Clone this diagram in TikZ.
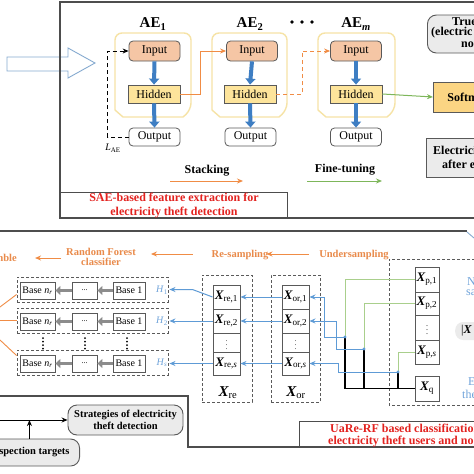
\documentclass[tikz,border=0pt]{standalone}
\usepackage{fontspec}
\setmainfont{Liberation Serif}
\usetikzlibrary{arrows.meta,calc}
\newcommand{\fs}[2]{\fontsize{#1}{#2}\selectfont}
\definecolor{panelgray}{HTML}{4D4D4D}
\definecolor{boxborder}{HTML}{595959}
\definecolor{aeyellow}{HTML}{F6E3A6}
\definecolor{inputfill}{HTML}{F5C6A5}
\definecolor{hiddenfill}{HTML}{FDE49B}
\definecolor{softfill}{HTML}{FBD583}
\definecolor{blueA}{HTML}{3E7EC3}
\definecolor{orangeL}{HTML}{F08C45}
\definecolor{greenL}{HTML}{7DB65A}
\definecolor{redT}{HTML}{E3221F}
\definecolor{orangeT}{HTML}{E98A4A}
\definecolor{lblue}{HTML}{6FA3DA}
\definecolor{bluethin}{HTML}{5E9BD6}
\definecolor{greenthin}{HTML}{A9CF8C}
\definecolor{grayA}{HTML}{8C8C8C}
\definecolor{grayfill}{HTML}{EBEBEB}
\definecolor{dashgray}{HTML}{5A5A5A}
\definecolor{hollow}{HTML}{86AAD0}
\begin{document}
\begin{tikzpicture}[x=1pt,y=-1pt,
  panel/.style={draw=panelgray, line width=1.6pt},
  capbox/.style={draw=panelgray, line width=1pt},
  aeframe/.style={draw=aeyellow, line width=1.4pt},
  inbox/.style={draw=boxborder, fill=inputfill, rounded corners=4pt, line width=0.8pt, minimum width=51pt, minimum height=20pt, inner sep=0pt, font=\fs{12}{14}},
  hidbox/.style={draw=boxborder, fill=hiddenfill, line width=0.8pt, minimum width=52pt, minimum height=18pt, inner sep=0pt, font=\fs{12}{14}},
  outbox/.style={draw=boxborder, fill=white, rounded corners=4pt, line width=0.8pt, minimum width=51pt, minimum height=18pt, inner sep=0pt, font=\fs{12}{14}},
  thickblue/.style={draw=blueA, line width=4pt, -{Triangle[length=6pt,width=10pt]}},
  aelabel/.style={font=\fs{15}{17}\bfseries, inner sep=0pt},
  boldtxt/.style={font=\fs{12}{14}\bfseries, inner sep=0pt},
  redcap/.style={font=\fs{12}{14}\bfseries, text=redT, inner sep=0pt},
  orln/.style={draw=orangeL, line width=0.9pt},
  orarr/.style={draw=orangeL, line width=1pt, -{Stealth[length=6pt,width=5pt]}},
  grarr/.style={draw=greenL, line width=1pt, -{Stealth[length=6pt,width=5pt]}},
  ortxt/.style={font=\fs{10.5}{10.5}\bfseries, text=orangeT, inner sep=0pt, align=center},
  rowbox/.style={draw=dashgray, dash pattern=on 3pt off 2pt, line width=0.9pt, minimum width=151pt, minimum height=25pt, inner sep=0pt},
  basebox/.style={draw=boxborder, line width=0.9pt, fill=white, minimum height=17pt, inner sep=0pt, font=\fs{10}{12}},
  grayarr/.style={draw=grayA, line width=3.5pt, -{Triangle[length=5pt,width=9pt]}},
  hlab/.style={font=\fs{10}{12}, text=lblue, inner sep=0pt},
  cell/.style={draw=boxborder, line width=0.9pt, fill=white, inner sep=0pt, font=\fs{13}{15}},
  colbox/.style={draw=dashgray, dash pattern=on 3pt off 2pt, line width=0.9pt},
  bluearr/.style={draw=bluethin, line width=1pt, -{Stealth[length=6pt,width=5pt]}},
  greenln/.style={draw=greenthin, line width=1pt},
  blkln/.style={draw=black, line width=1.5pt},
  bluetxt/.style={font=\fs{12}{14}, text=lblue, inner sep=0pt},
  graybox/.style={draw=boxborder, fill=grayfill, line width=0.9pt},
  strtxt/.style={font=\fs{10.5}{12.5}\bfseries, align=center}
]
\useasboundingbox (0,0) rectangle (474,474);
\clip (0,0) rectangle (474,474);
\fill[white] (0,0) rectangle (474,474);

% ---------------- hollow input arrow
\draw[draw=hollow, fill=white, line width=0.9pt] (7,57) -- (68,57) -- (68,48) -- (95,63) -- (68,78) -- (68,71) -- (7,71) -- cycle;

% ---------------- top panel
\draw[panel] (480,2) -- (60,2) -- (60,218) -- (480,218);
\node[capbox, minimum width=227pt, minimum height=26pt, anchor=north west, inner sep=0pt] (cap1) at (60,192) {};
\node[redcap, align=center] (cap1txt) at (cap1.center) {SAE-based feature extraction for\\electricity theft detection};

% AE containers
\foreach \L/\R in {115/191, 212/287, 318/395}{
  \draw[aeframe] (\L+8,117) -- (\L,110) [rounded corners=7pt] -- (\L,33) -- (\R,33) -- (\R,110) [sharp corners] -- (\R-8,117) -- cycle;
}
\node[aelabel] (ae1) at (153,24) {AE\textsubscript{1}};
\node[aelabel] (ae2) at (250,24) {AE\textsubscript{2}};
\node[aelabel] (aem) at (356,24) {AE\textsubscript{\textit{m}}};
\foreach \x in {292,302,312} \fill (\x,22) circle (1.8pt);

\node[inbox] (i1) at (154.5,51) {Input};
\node[hidbox] (h1) at (154,94) {Hidden};
\node[outbox] (o1) at (154.5,137) {Output};
\node[inbox] (i2) at (252,51) {Input};
\node[hidbox] (h2) at (250,94) {Hidden};
\node[outbox] (o2) at (250.5,137) {Output};
\node[inbox] (im) at (356,51) {Input};
\node[hidbox] (hm) at (356,94) {Hidden};
\node[outbox] (om) at (356,137) {Output};

\foreach \a/\b in {i1/h1,h1/o1,i2/h2,h2/o2,im/hm,hm/om}
  \draw[thickblue] (\a.south) -- (\b.north);

\draw[line width=0.9pt, dash pattern=on 4pt off 3pt, -{Stealth[length=6pt,width=5pt]}] (o1.west) -- ++(-21,0) |- (i1.west);
\node[font=\fs{10}{12}, inner sep=0pt] (lae) at (113,148) {\textit{L}\textsubscript{AE}};

\draw[orarr] (h1.east) -- ++(20,0) |- (i2.west);
\draw[orarr, dash pattern=on 4pt off 3pt] (h2.east) -- ++(26,0) |- (im.west);

% right-hand boxes
\node[draw=boxborder, fill=grayfill, rounded corners=9pt, line width=0.9pt, minimum width=80pt, minimum height=38pt, anchor=west] (truebox) at (427,34) {};
\node[boldtxt, anchor=west] (tru1) at (452,21.5) {True};
\node[boldtxt, anchor=west] (tru2) at (431,33) {(electric};
\node[boldtxt, anchor=west] (tru3) at (461,44.5) {no};
\node[draw=boxborder, fill=softfill, line width=0.9pt, minimum height=30pt, inner xsep=14pt, anchor=west, font=\fs{12}{14}\bfseries] (sm) at (433,97) {Softmax};
\draw[grarr] (hm.east) -- (sm.west);
\node[graybox, minimum width=80pt, minimum height=39pt, anchor=west] (elecbox) at (426,157.5) {};
\node[boldtxt, anchor=west] (el1) at (433,150) {Electrici};
\node[boldtxt, anchor=west] (el2) at (442,164) {after e};

% stacking / fine-tuning
\node[boldtxt] (stack) at (207,171) {Stacking};
\coordinate (sa) at (170,181); \coordinate (sb) at (243,181);
\draw[orarr] (sa) -- (sb);
\node[boldtxt] (fine) at (345,170) {Fine-tuning};
\coordinate (fa) at (307,181); \coordinate (fb) at (382,181);
\draw[grarr] (fa) -- (fb);

% ---------------- bottom panel
\draw[panel] (0,231) -- (467,231);
\draw[draw=hollow, line width=0.9pt] (467,232) -- (474,238);
\draw[panel] (-5,396) -- (188,396) -- (188,447) -- (480,447);
\node[capbox, minimum width=190pt, minimum height=26pt, anchor=north west, inner sep=0pt] (cap2) at (299,421) {};
\node[redcap, anchor=west] (cap2a) at (330,428) {UaRe-RF based classification};
\node[redcap, anchor=west] (cap2b) at (328,442) {electricity theft users and no};

% orange headings
\node[font=\fs{10.5}{12}\bfseries, text=orangeT, inner sep=0pt, anchor=east] (ens) at (17,258) {mble};
\node[ortxt] (rf) at (101,257) {Random Forest\\classifier};
\node[ortxt] (resamp) at (240,255) {Re-sampling};
\node[ortxt] (under) at (354,255) {Undersampling};
\draw[orarr] (rf.west) ++(-5,1) coordinate (rfa) -- ++(-26,0) coordinate (rfb);
\draw[orarr] ([xshift=-19pt,yshift=1pt]resamp.west) -- ([xshift=15pt,yshift=3pt]rf.east);
\draw[orarr] ([xshift=-10pt,yshift=1pt]under.west) -- ([xshift=-2pt,yshift=1pt]resamp.east);

% base classifier rows
\foreach \r/\yc in {1/289.5, 2/320.5, 3/362.5}{
  \node[rowbox] (row\r) at (92.5,\yc) {};
  \node[basebox, minimum width=35pt] (bn\r) at (37.5,\yc+1) {Base \textit{n}\textsubscript{\textit{r}}};
  \node[basebox, minimum width=25pt, font=\fs{8}{9}] (bd\r) at (84.5,\yc+1) {...};
  \node[basebox, minimum width=32pt] (bo\r) at (129,\yc+1) {Base 1};
  \draw[grayarr] (bo\r.west) -- (bd\r.east);
  \draw[grayarr] (bd\r.west) -- (bn\r.east);
}
\node[hlab] (H1) at (162,290) {\textit{H}\textsubscript{1}};
\node[hlab] (H2) at (162,321) {\textit{H}\textsubscript{2}};
\node[hlab] (Hs) at (162,363) {\textit{H}\textsubscript{\textit{s}}};
\foreach \x in {43,85,127} \foreach \y in {338,341.5,345,348.5} \fill (\x,\y) circle (1pt);

% orange lines from the left
\coordinate (e1) at (0,307); \coordinate (e2) at (0,320.5); \coordinate (e3) at (0,340);
\draw[orln] (e1) -- ([yshift=-5pt]row1.west);
\draw[orln] (e2) -- (row2.west);
\draw[orln] (e3) -- ([yshift=7pt]row3.west);

% X_re and X_or columns
\node[colbox, minimum width=50pt, minimum height=127pt, inner sep=0pt] (recol) at (227,338.5) {};
\node[colbox, minimum width=49pt, minimum height=127pt, inner sep=0pt] (orcol) at (295.5,338.5) {};
\foreach \n/\x in {re/226.5, or/295.5}{
  \node[cell, minimum width=27pt, minimum height=24pt] (\n1) at (\x,297) {{\bfseries\itshape X}\textsubscript{\n,1}};
  \node[cell, minimum width=27pt, minimum height=24pt] (\n2) at (\x,321) {{\bfseries\itshape X}\textsubscript{\n,2}};
  \node[cell, minimum width=27pt, minimum height=19pt, font=\fs{7}{8}] (\n d) at (\x,342.5) {$\vdots$};
  \node[cell, minimum width=27pt, minimum height=23pt] (\n s) at (\x,363.5) {{\bfseries\itshape X}\textsubscript{\n,\textit{s}}};
}
\node[font=\fs{15}{17}, inner sep=0pt] (relab) at (228,393) {{\bfseries\itshape X}\textsubscript{re}};
\node[font=\fs{15}{17}, inner sep=0pt] (orlab) at (296,393) {{\bfseries\itshape X}\textsubscript{or}};

\draw[bluearr] (or1.west) -- (re1.east);
\draw[bluearr] (or2.west) -- (re2.east);
\draw[bluearr] (ors.west) -- (res.east);
\draw[bluearr] (re1.west) -- ([xshift=24pt]row1.east) -- ([xshift=1pt]row1.east);
\draw[bluearr] (re2.west) -- ([xshift=1pt]row2.east |- re2.west);
\draw[bluearr] (res.west) -- ([xshift=1pt]row3.east |- res.west);

% Xp column
\draw[colbox] (480,259) -- (389,259) -- (389,405) -- (480,405);
\node[cell, minimum width=24pt, minimum height=25pt] (p1) at (427,279.5) {{\bfseries\itshape X}\textsubscript{p,1}};
\node[cell, minimum width=24pt, minimum height=23pt] (p2) at (427,303.5) {{\bfseries\itshape X}\textsubscript{p,2}};
\node[cell, minimum width=24pt, minimum height=25pt, font=\fs{8}{9}] (pd) at (427,327.5) {$\vdots$};
\node[cell, minimum width=24pt, minimum height=24pt] (ps) at (427,352) {{\bfseries\itshape X}\textsubscript{p,\textit{s}}};
\node[cell, minimum width=24pt, minimum height=25pt] (q) at (427,388.5) {{\bfseries\itshape X}\textsubscript{q}};

\coordinate (J1) at (345,337);
\coordinate (J2) at (364,349);
\coordinate (J3) at (398,372);
\draw[greenln] (p1.west) -| (J1);
\draw[greenln] (p2.west) -| (J2);
\draw[greenln] (ps.west) -| (J3);
\draw[blkln] (J1) |- (q.west);
\draw[blkln] (J2) -- (J2 |- q.west);
\draw[blkln] (J3) -- (J3 |- q.west);
\draw[bluearr] (J1) -| ([xshift=15pt]or1.east) -- (or1.east);
\draw[bluearr] (J2) -| ([xshift=27pt]or2.east) -- (or2.east);
\draw[bluearr] (J3) -| ([xshift=29pt]ors.east) -- (ors.east);
\foreach \j in {J1,J2,J3} \fill[bluethin] (\j) circle (1.7pt);

% right side texts
\node[bluetxt, anchor=west] (nt1) at (467,282) {N};
\node[bluetxt, anchor=west] (nt2) at (466,293) {sa};
\node[fill=grayfill, rounded corners=8pt, minimum height=18pt, minimum width=40pt, anchor=west, inner sep=0pt] (xbox) at (455,331) {};
\node[font=\fs{12}{14}, anchor=west, inner sep=0pt] (xabs) at (461,331) {|{\bfseries\itshape X}};
\node[bluetxt, anchor=west] (et1) at (468,382) {E};
\node[bluetxt, anchor=west] (et2) at (462,394) {the};

% strategies
\node[graybox, rounded corners=9pt, minimum width=115pt, minimum height=30pt, strtxt] (strat) at (125.5,420) {Strategies of electricity\\theft detection};
\node[graybox, rounded corners=9pt, minimum height=27pt, inner xsep=10pt, anchor=east, font=\fs{10.5}{12.5}\bfseries] (insp) at (80,452.5) {Inspection targets};
\coordinate (sl) at (-2,420);
\draw[line width=0.9pt, -{Stealth[length=6pt,width=5pt]}] (sl) -- (strat.west);
\draw[line width=0.9pt, -{Stealth[length=6pt,width=5pt]}] (insp.north) -- (insp.north |- strat.west);
\end{tikzpicture}
\end{document}
